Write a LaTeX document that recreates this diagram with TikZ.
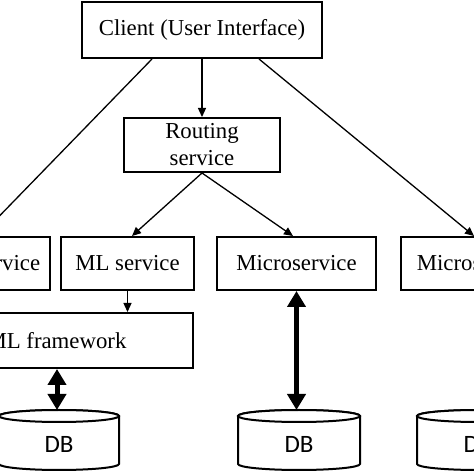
\documentclass[tikz,border=0pt]{standalone}
\usepackage{fontspec}
\setmainfont{Liberation Serif}
\newfontfamily\dbfont{Carlito}
\usetikzlibrary{arrows.meta}
\newcommand\dbcyl[3]{%
  \draw[dbline] (#2-#3,58) -- (#2-#3,10) arc[start angle=180,end angle=360,x radius=#3,y radius=6] -- (#2+#3,58) arc[start angle=0,end angle=180,x radius=#3,y radius=6] -- cycle;
  \draw[dbline] (#2,58) ellipse[x radius=#3,y radius=6];
  \node[dbtext] (#1) at (#2,30) {DB};}
\begin{document}
\begin{tikzpicture}[x=1pt,y=1pt,
  svcbox/.style={draw,line width=2pt,fill=white,inner sep=0pt,minimum height=53pt,
    font=\fontsize{22.8}{27}\selectfont,align=center},
  thinarrow/.style={line width=1.3pt,-{Triangle[length=9pt,width=8pt]}},
  thickarrow/.style={line width=5pt,{Triangle[length=16pt,width=18pt]}-{Triangle[length=16pt,width=18pt]}},
  dbline/.style={line width=2pt,fill=white},
  dbtext/.style={font=\dbfont\fontsize{25}{28}\selectfont,inner sep=0pt}]
\useasboundingbox (0,0) rectangle (474,474);
\clip (0,0) rectangle (474,474);
\fill[white] (0,0) rectangle (474,474);

\node[svcbox,minimum width=240pt,minimum height=56pt] (client) at (202,444) {Client (User Interface)};
\node[svcbox,minimum width=156pt,minimum height=54pt] (routing) at (202,329) {Routing\\service};
\node[svcbox,minimum width=140pt] (lsvc) at (-20,210.5) {Microservice};
\node[svcbox,minimum width=133pt] (mlsvc) at (127.5,210.5) {ML service};
\node[svcbox,minimum width=159pt] (msvc) at (296.5,210.5) {Microservice};
\node[svcbox,minimum width=152pt] (rsvc) at (477,210.5) {Microservice};
\node[svcbox,minimum width=273pt,minimum height=55pt] (mlfw) at (56.5,133.5) {ML framework};

\dbcyl{db1}{59}{60}
\dbcyl{db2}{299}{61}
\dbcyl{db3}{478}{61}
\coordinate (db1top) at (57,64);
\coordinate (db2top) at (296.5,64);
\coordinate (db3top) at (484,81);
\coordinate (r3top) at (484,171);

\draw[thinarrow] (client) -- (routing);
\draw[thinarrow] ([xshift=-50pt]client.south) -- (lsvc.north);
\draw[thinarrow] ([xshift=57pt]client.south) -- ([xshift=-3pt]rsvc.north);
\draw[thinarrow] (routing.south) -- ([xshift=4.5pt]mlsvc.north);
\draw[thinarrow] (routing.south) -- ([xshift=-3.5pt]msvc.north);
\draw[thinarrow] (mlsvc.south) -- (mlsvc.south |- mlfw.north);

\draw[thickarrow] (mlfw.south -| db1top) -- (db1top);
\draw[thickarrow] (msvc.south) -- (db2top);
\draw[thickarrow] (r3top) -- (db3top);
\end{tikzpicture}
\end{document}
